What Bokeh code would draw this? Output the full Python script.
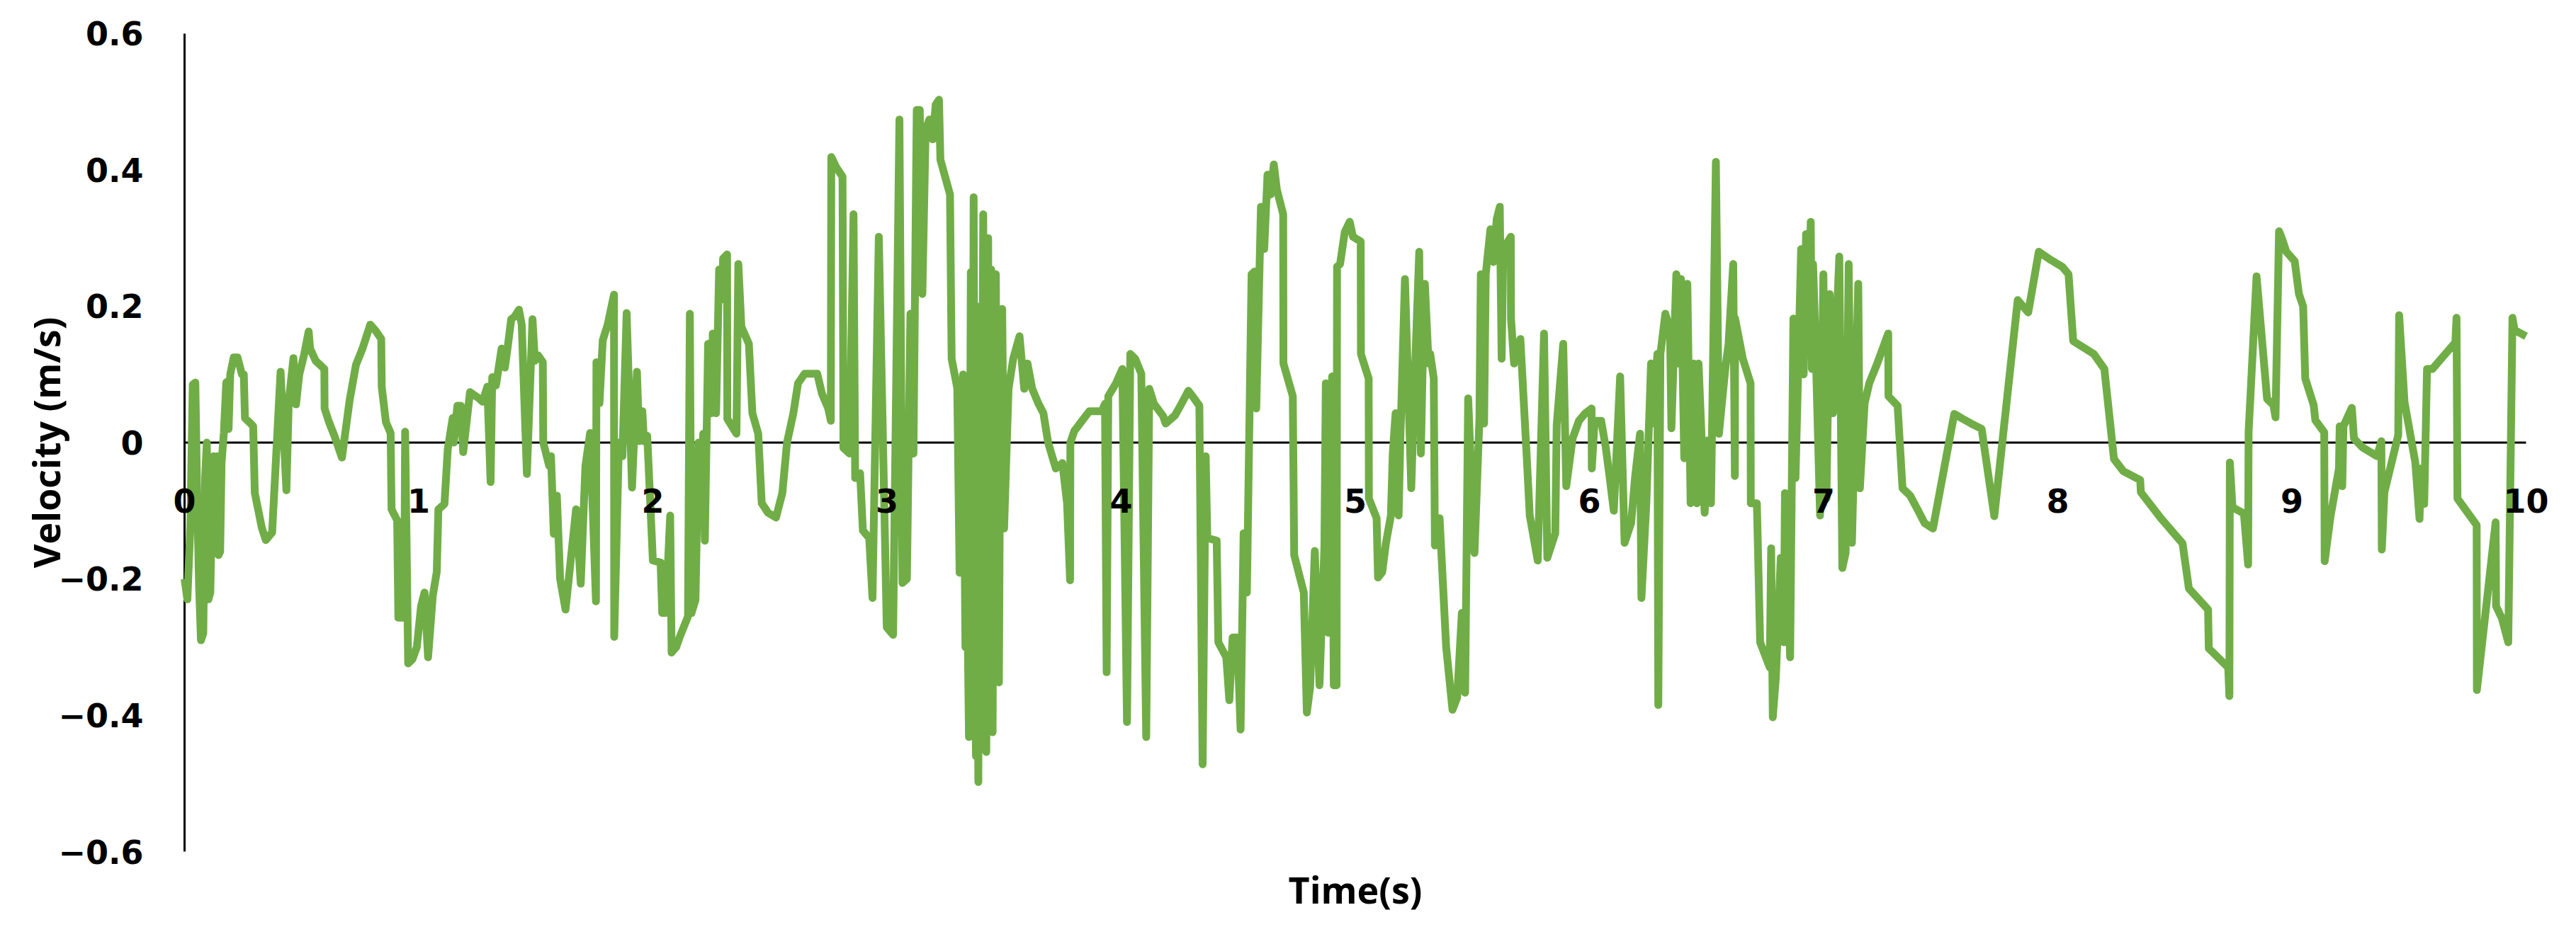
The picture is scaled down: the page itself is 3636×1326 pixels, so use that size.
from math import pi
from bokeh.plotting import figure
from bokeh.models import Range1d, Label, LabelSet, ColumnDataSource
from bokeh.core.properties import value
from bokeh.embed import file_html
from bokeh.resources import INLINE

# (time s, velocity m/s) readings, one list per second of record
sec_0 = [(0.000,-0.20),(0.012,-0.23),(0.025,-0.12),(0.035,0.085),(0.046,0.088),(0.055,-0.10),
         (0.062,-0.21),(0.070,-0.29),(0.080,-0.28),(0.088,-0.05),(0.095,0.0),(0.102,-0.23),
         (0.110,-0.22),(0.118,-0.08),(0.124,-0.02),(0.130,-0.16),(0.138,-0.02),(0.145,-0.165),
         (0.152,-0.16),(0.158,-0.03),(0.168,0.015),(0.178,0.088),(0.185,0.09),(0.188,0.02),
         (0.195,0.10),(0.210,0.125),(0.226,0.125),(0.245,0.10),(0.253,0.10),(0.258,0.036),
         (0.282,0.028),(0.293,0.024),(0.300,-0.074),(0.330,-0.125),(0.347,-0.143),(0.374,-0.132),
         (0.410,0.104),(0.435,-0.07),(0.445,0.06),(0.465,0.124),(0.476,0.056),(0.490,0.10),
         (0.510,0.128),(0.530,0.163),(0.536,0.138),(0.560,0.12),(0.597,0.108),(0.598,0.05),
         (0.617,0.03),(0.640,0.01),(0.672,-0.022),(0.705,0.062),(0.732,0.114),(0.760,0.138),
         (0.793,0.173),(0.814,0.165),(0.840,0.152),(0.842,0.082),(0.860,0.03),(0.880,0.014),
         (0.884,-0.098),(0.908,-0.114),(0.913,-0.257),(0.938,-0.257),(0.942,0.016),(0.955,-0.324),
         (0.973,-0.318),(0.992,-0.30)]
sec_1 = [(1.010,-0.24),(1.025,-0.22),(1.040,-0.315),(1.060,-0.225),(1.077,-0.19),(1.084,-0.098),
         (1.110,-0.09),(1.124,-0.01),(1.145,0.036),(1.150,0.0),(1.165,0.054),(1.180,0.054),
         (1.190,-0.014),(1.219,0.074),(1.253,0.066),(1.273,0.06),(1.293,0.082),(1.307,-0.058),
         (1.314,0.096),(1.330,0.084),(1.354,0.138),(1.368,0.11),(1.380,0.14),(1.395,0.181),
         (1.410,0.185),(1.428,0.195),(1.440,0.173),(1.462,-0.046),(1.486,0.181),(1.496,0.12),
         (1.510,0.128),(1.530,0.118),(1.532,0.0),(1.557,-0.034),(1.565,-0.02),(1.577,-0.134),
         (1.590,-0.078),(1.604,-0.20),(1.627,-0.245),(1.672,-0.098),(1.692,-0.207),(1.712,-0.034),
         (1.732,0.014),(1.757,-0.233),(1.759,0.118),(1.772,0.058),(1.786,0.15),(1.807,0.173),
         (1.834,0.217),(1.835,-0.285),(1.855,0.0),(1.870,-0.02),(1.888,0.19),(1.911,-0.066),
         (1.932,0.104),(1.942,0.002),(1.955,0.046),(1.962,0.002),(1.976,0.01)]
sec_2 = [(2.000,-0.173),(2.033,-0.176),(2.040,-0.25),(2.055,-0.25),(2.074,-0.107),(2.080,-0.308),
         (2.100,-0.30),(2.114,-0.286),(2.150,-0.255),(2.158,0.189),(2.165,-0.25),(2.182,-0.231),
         (2.195,0.0),(2.205,-0.103),(2.215,0.013),(2.222,-0.144),(2.236,0.145),(2.249,0.043),
         (2.256,0.16),(2.270,0.043),(2.283,0.254),(2.295,0.21),(2.300,0.27),(2.317,0.276),
         (2.318,0.035),(2.357,0.013),(2.365,0.262),(2.378,0.17),(2.410,0.145),(2.425,0.043),
         (2.450,0.013),(2.465,-0.089),(2.492,-0.103),(2.526,-0.11),(2.553,-0.074),(2.573,0.0),
         (2.600,0.043),(2.620,0.087),(2.648,0.101),(2.702,0.101),(2.722,0.072),(2.749,0.05),
         (2.760,0.032),(2.762,0.419),(2.783,0.404),(2.810,0.39),(2.814,-0.008),(2.840,-0.016),
         (2.857,0.335),(2.864,-0.052),(2.885,-0.045),(2.897,-0.129),(2.924,-0.14),(2.938,-0.228),
         (2.965,0.302),(2.999,-0.271)]
sec_3 = [(3.026,-0.282),(3.053,0.474),(3.066,-0.206),(3.085,-0.20),(3.100,0.189),(3.113,-0.016),
         (3.127,0.488),(3.140,0.488),(3.151,0.218),(3.165,0.459),(3.181,0.474),(3.195,0.445),
         (3.208,0.496),(3.222,0.503),(3.228,0.415),(3.269,0.364),(3.276,0.123),(3.300,0.08),
         (3.310,-0.191),(3.325,0.10),(3.335,-0.30),(3.343,-0.228),(3.350,-0.432),(3.358,0.25),
         (3.364,-0.40),(3.370,0.36),(3.376,-0.35),(3.380,-0.46),(3.384,0.20),(3.390,-0.498),
         (3.396,0.10),(3.400,-0.45),(3.411,0.335),(3.417,-0.40),(3.424,-0.454),(3.432,0.30),
         (3.438,-0.38),(3.445,0.254),(3.451,-0.425),(3.458,0.20),(3.465,0.247),(3.471,-0.30),
         (3.478,-0.352),(3.485,0.15),(3.492,0.196),(3.500,-0.126),(3.519,0.079),(3.539,0.123),
         (3.566,0.156),(3.586,0.079),(3.600,0.116),(3.620,0.079),(3.647,0.057),(3.668,0.043),
         (3.688,0.0),(3.721,-0.038),(3.749,-0.03),(3.769,-0.089),(3.782,-0.202),(3.783,0.0),
         (3.800,0.017),(3.864,0.046),(3.917,0.046),(3.931,0.057),(3.938,-0.337),(3.945,0.068),
         (3.978,0.087)]
sec_4 = [(4.005,0.108),(4.025,-0.41),(4.039,0.13),(4.060,0.123),(4.086,0.101),(4.107,-0.432),
         (4.120,0.079),(4.140,0.057),(4.179,0.039),(4.190,0.028),(4.230,0.04),(4.253,0.054),
         (4.287,0.076),(4.305,0.068),(4.334,0.054),(4.348,-0.472),(4.361,-0.02),(4.368,-0.14),
         (4.408,-0.144),(4.415,-0.293),(4.449,-0.315),(4.462,-0.378),(4.476,-0.286),(4.496,-0.286),
         (4.510,-0.421),(4.523,-0.133),(4.537,-0.22),(4.557,0.247),(4.570,0.251),(4.577,0.05),
         (4.597,0.346),(4.611,0.284),(4.625,0.393),(4.638,0.364),(4.652,0.408),(4.665,0.371),
         (4.692,0.335),(4.693,0.116),(4.733,0.068),(4.739,-0.165),(4.780,-0.22),(4.793,-0.396),
         (4.807,-0.359),(4.827,-0.159),(4.847,-0.356),(4.868,-0.154),(4.874,0.087),(4.885,-0.279),
         (4.901,0.097),(4.908,-0.356),(4.920,-0.356),(4.922,0.258),(4.935,0.262),(4.955,0.309),
         (4.976,0.324),(4.990,0.302)]
sec_5 = [(5.023,0.295),(5.024,0.13),(5.057,0.094),(5.058,-0.082),(5.091,-0.111),(5.097,-0.198),
         (5.115,-0.19),(5.131,-0.147),(5.152,-0.107),(5.160,-0.016),(5.172,0.043),(5.185,-0.107),
         (5.192,0.0),(5.212,0.24),(5.239,-0.067),(5.253,0.087),(5.273,0.28),(5.280,-0.016),
         (5.287,0.101),(5.297,0.233),(5.313,0.116),(5.320,0.13),(5.335,0.094),(5.340,-0.151),
         (5.360,-0.111),(5.388,-0.30),(5.415,-0.392),(5.435,-0.374),(5.455,-0.25),(5.469,-0.367),
         (5.482,0.065),(5.509,-0.162),(5.530,0.035),(5.536,0.247),(5.550,0.028),(5.557,0.247),
         (5.577,0.313),(5.590,0.265),(5.604,0.328),(5.617,0.346),(5.625,0.123),(5.632,0.284),
         (5.664,0.302),(5.665,0.182),(5.678,0.116),(5.705,0.152),(5.732,-0.02),(5.745,-0.107),
         (5.779,-0.173),(5.806,0.16),(5.820,-0.169),(5.854,-0.133),(5.860,0.025),(5.888,0.145),
         (5.901,-0.064),(5.928,0.006),(5.955,0.032),(5.982,0.043)]
sec_6 = [(6.009,0.05),(6.010,-0.038),(6.022,0.032),(6.050,0.032),(6.070,-0.008),(6.084,-0.045),
         (6.104,-0.10),(6.131,0.097),(6.150,-0.147),(6.178,-0.118),(6.195,-0.05),(6.216,0.013),
         (6.222,-0.228),(6.243,-0.089),(6.263,0.116),(6.270,0.028),(6.290,0.13),(6.294,-0.385),
         (6.303,0.13),(6.324,0.189),(6.344,0.167),(6.350,0.021),(6.371,0.247),(6.380,0.116),
         (6.391,0.24),(6.405,-0.023),(6.418,0.233),(6.432,-0.089),(6.445,0.116),(6.459,-0.089),
         (6.466,0.116),(6.492,-0.103),(6.505,0.003),(6.519,-0.089),(6.540,0.412),(6.553,0.013),
         (6.580,0.108),(6.594,0.145),(6.614,0.262),(6.621,-0.049),(6.622,0.182),(6.655,0.123),
         (6.688,0.087),(6.689,-0.089),(6.715,-0.089),(6.729,-0.293),(6.770,-0.33),(6.776,-0.155),
         (6.783,-0.403),(6.796,-0.345),(6.817,-0.169),(6.830,-0.293),(6.835,-0.074),(6.857,-0.315),
         (6.871,0.182),(6.880,-0.052),(6.904,0.284),(6.915,0.10),(6.925,0.306),(6.935,0.15),
         (6.945,0.324),(6.950,0.108),(6.955,0.262),(6.965,0.152),(6.985,-0.107)]
sec_7 = [(6.999,0.247),(7.012,-0.082),(7.026,0.218),(7.040,0.043),(7.067,0.273),(7.080,-0.184),
         (7.094,-0.162),(7.107,0.262),(7.121,-0.147),(7.148,0.233),(7.155,-0.067),(7.175,0.057),
         (7.195,0.087),(7.229,0.116),(7.276,0.16),(7.277,0.068),(7.316,0.054),(7.337,-0.067),
         (7.370,-0.078),(7.404,-0.10),(7.431,-0.118),(7.467,-0.126),(7.558,0.042),(7.593,0.035),
         (7.630,0.028),(7.675,0.02),(7.729,-0.108),(7.829,0.209),(7.874,0.191),(7.919,0.28),
         (7.965,0.269)]
sec_8 = [(8.019,0.258),(8.046,0.247),(8.066,0.149),(8.154,0.13),(8.199,0.108),(8.240,-0.024),
         (8.280,-0.042),(8.352,-0.055),(8.355,-0.073),(8.443,-0.112),(8.533,-0.148),(8.560,-0.214),
         (8.642,-0.245),(8.645,-0.302),(8.728,-0.33),(8.733,-0.372),(8.735,-0.029),(8.746,-0.095),
         (8.795,-0.104),(8.813,-0.179),(8.815,0.015),(8.849,0.244),(8.894,0.064),(8.921,0.055),
         (8.930,0.037),(8.945,0.31),(8.960,0.297),(8.976,0.28)]
sec_9 = [(9.012,0.266),(9.030,0.218),(9.048,0.2),(9.057,0.094),(9.093,0.055),(9.100,0.033),
         (9.138,0.015),(9.140,-0.174),(9.165,-0.108),(9.201,-0.038),(9.204,0.024),(9.215,-0.064),
         (9.220,0.024),(9.256,0.051),(9.265,0.006),(9.301,-0.007),(9.364,-0.02),(9.382,0.002),
         (9.384,-0.157),(9.395,-0.073),(9.454,0.011),(9.458,0.187),(9.481,0.059),(9.527,-0.029),
         (9.545,-0.112),(9.552,-0.038),(9.565,-0.09),(9.577,0.108),(9.600,0.108),(9.698,0.147),
         (9.703,0.183),(9.707,-0.082),(9.789,-0.121),(9.790,-0.363),(9.870,-0.117),(9.872,-0.24),
         (9.897,-0.258),(9.924,-0.293),(9.942,0.183),(9.951,0.165),(10.0,0.156)]

x_ticks = [0, 1, 2, 3, 4, 5, 6, 7, 8, 9, 10]
x_tick_labels = ["0", "1", "2", "3", "4", "5", "6", "7", "8", "9", "10"]
y_ticks = [-0.6, -0.4, -0.2, 0, 0.2, 0.4, 0.6]
y_tick_labels = ["\u22120.6", "\u22120.4", "\u22120.2", "0", "0.2", "0.4", "0.6"]
x_title = "Time(s)"
y_title = "Velocity (m/s)"

segments = [sec_0, sec_1, sec_2, sec_3, sec_4, sec_5, sec_6, sec_7, sec_8, sec_9]
time_s = [t for seg in segments for t, _ in seg]
velocity = [v for seg in segments for _, v in seg]

GREEN = "#70AD47"
TICK_FONT = "DejaVu Sans"
TITLE_FONT = "Open Sans"

# the frame fills the whole canvas, so the axes, their labels and titles are drawn inside it
p = figure(width=3620, height=1310, output_backend="svg", toolbar_location=None,
           x_range=Range1d(-0.7867, 10.1664), y_range=Range1d(-0.7122, 0.6488),
           x_axis_location=None, y_axis_location=None,
           min_border_left=0, min_border_right=0, min_border_top=0, min_border_bottom=0)
p.outline_line_color = None
p.grid.visible = False
p.background_fill_color = "white"
p.border_fill_color = "white"

# axis lines (vertical one spans the y ticks, horizontal one runs along zero over the x ticks)
p.segment(x0=[0], y0=[min(y_ticks)], x1=[0], y1=[max(y_ticks)], line_color="black", line_width=3)
p.segment(x0=[min(x_ticks)], y0=[0], x1=[max(x_ticks)], y1=[0], line_color="black", line_width=3)

p.line(time_s, velocity, line_color=GREEN, line_width=11, line_join="round")

ysrc = ColumnDataSource(dict(y=y_ticks, text=y_tick_labels))
p.add_layout(LabelSet(x=-0.1755, y="y", text="text", source=ysrc, text_align="right",
                      text_baseline="middle", text_font=value(TICK_FONT),
                      text_font_style="bold", text_font_size="46px", text_color="black"))

xsrc = ColumnDataSource(dict(x=x_ticks, text=x_tick_labels))
p.add_layout(LabelSet(x="x", y=-0.085, text="text", source=xsrc, text_align="center",
                      text_baseline="middle", text_font=value(TICK_FONT),
                      text_font_style="bold", text_font_size="46px", text_color="black"))

p.add_layout(Label(x=5, y=-0.655, text=x_title, text_align="center", text_baseline="middle",
                   text_font=TITLE_FONT, text_font_style="bold", text_font_size="52px",
                   text_color="black"))
p.add_layout(Label(x=-0.593, y=0.0, text=y_title, angle=pi / 2, text_align="center",
                   text_baseline="middle", text_font=TITLE_FONT, text_font_style="bold",
                   text_font_size="52px", text_color="black"))

open("out.html", "w").write(file_html(p, INLINE))
